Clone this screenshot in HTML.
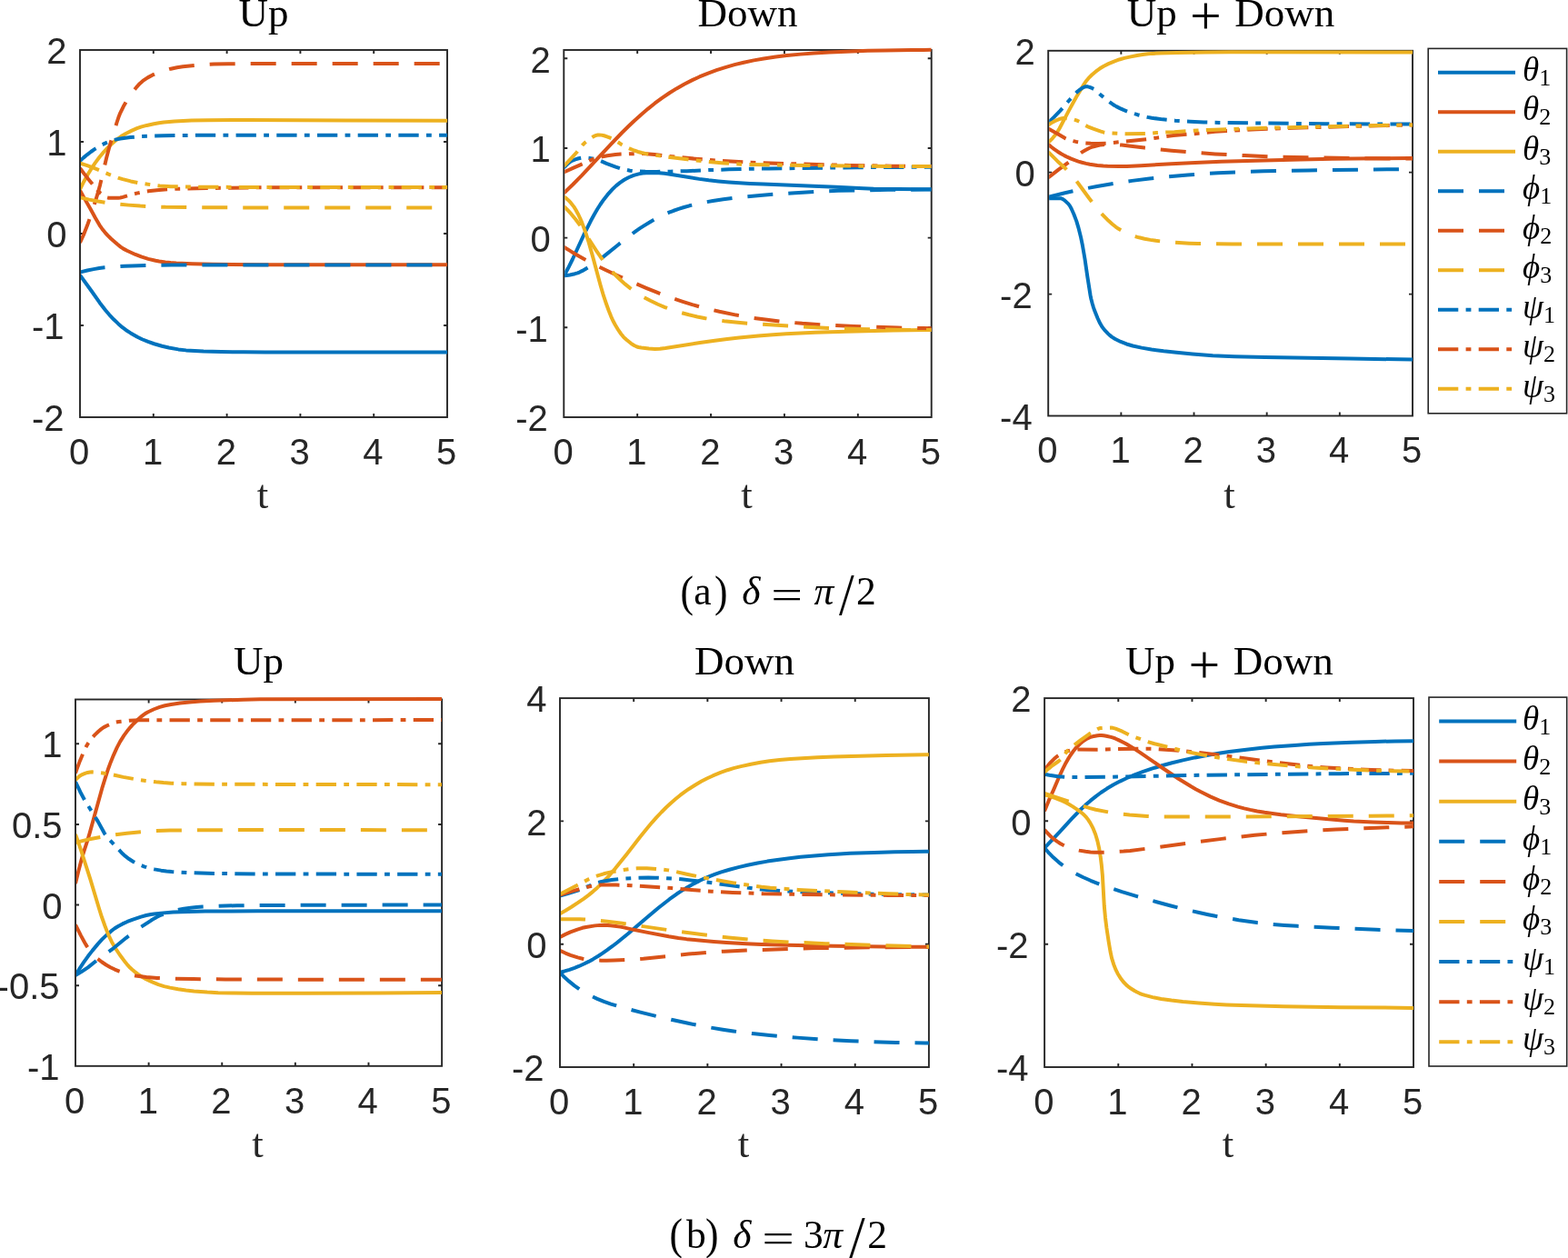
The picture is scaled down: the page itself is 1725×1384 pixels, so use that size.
<!DOCTYPE html><html><head><meta charset="utf-8"><style>html,body{margin:0;padding:0;background:#fff;}svg{display:block}</style></head><body>
<svg width="1725" height="1384" viewBox="0 0 1725 1384">
<rect width="1725" height="1384" fill="#fff"/>
<rect x="88" y="55" width="404" height="404" fill="none" stroke="#262626" stroke-width="1.9"/>
<path d="M168.8 459v-4.0M168.8 55v4.0M249.6 459v-4.0M249.6 55v4.0M330.4 459v-4.0M330.4 55v4.0M411.2 459v-4.0M411.2 55v4.0M88 156h4.0M492 156h-4.0M88 257h4.0M492 257h-4.0M88 358h4.0M492 358h-4.0" stroke="#262626" stroke-width="1.9" fill="none"/>
<g font-family="Liberation Sans, sans-serif" font-size="40" fill="#262626"><text x="87.2" y="510.8" text-anchor="middle">0</text><text x="168" y="510.8" text-anchor="middle">1</text><text x="248.8" y="510.8" text-anchor="middle">2</text><text x="329.6" y="510.8" text-anchor="middle">3</text><text x="410.4" y="510.8" text-anchor="middle">4</text><text x="491.2" y="510.8" text-anchor="middle">5</text><text x="73.5" y="70.2" text-anchor="end">2</text><text x="73.5" y="171.2" text-anchor="end">1</text><text x="73.5" y="272.2" text-anchor="end">0</text><text x="70.5" y="373.2" text-anchor="end">-1</text><text x="70.5" y="474.2" text-anchor="end">-2</text></g>
<text x="290" y="28.7" text-anchor="middle" font-family="Liberation Serif, serif" font-size="45" fill="#000">Up</text>
<text x="289" y="558.5" text-anchor="middle" font-family="Liberation Serif, serif" font-size="45" fill="#262626">t</text>
<clipPath id="cP1"><rect x="88.95" y="45" width="414" height="424"/></clipPath>
<g clip-path="url(#cP1)" fill="none" stroke-width="4.0" stroke-linejoin="round" stroke-linecap="butt"><path d="M88.00 302.80 L100.90 320.55 L109.80 333.18 L116.20 341.46 L120.30 346.27 L125.00 351.28 L130.10 356.18 L134.70 360.21 L138.70 363.21 L143.70 366.40 L151.20 370.79 L156.30 373.25 L162.90 375.94 L169.60 378.25 L178.20 380.74 L185.70 382.54 L196.30 384.39 L204.70 385.38 L223.90 386.51 L243.50 387.02 L268.40 387.35 L291.70 387.49 L492.00 387.60" stroke="#0072BD"/><path d="M88.00 209.50 L93.20 218.85 L99.60 230.00 L104.90 239.75 L109.60 247.79 L112.30 251.65 L115.40 255.54 L118.60 259.07 L122.30 262.72 L128.90 268.51 L132.70 271.58 L135.70 273.62 L139.70 275.79 L148.90 279.95 L155.30 282.46 L163.10 284.90 L171.20 286.82 L175.10 287.51 L182.00 288.43 L187.70 289.01 L194.00 289.48 L211.60 290.29 L234.10 290.87 L289.90 291.24 L492.00 291.30" stroke="#D95319"/><path d="M88.00 208.30 L92.20 199.97 L96.40 192.32 L100.40 185.68 L104.60 179.40 L109.30 173.06 L114.10 167.24 L118.60 162.40 L123.50 157.78 L129.10 153.07 L133.20 150.07 L138.40 146.93 L144.60 143.88 L150.70 141.20 L155.80 139.37 L161.50 137.92 L169.30 136.30 L174.90 135.34 L180.30 134.60 L192.00 133.59 L210.80 132.53 L228.30 132.15 L272.80 131.90 L380.70 132.53 L492.00 132.80" stroke="#EDB120"/><path d="M88.00 299.50 L96.10 297.55 L103.00 296.10 L109.20 295.05 L115.00 294.33 L126.20 293.39 L137.20 292.73 L145.60 292.40 L165.10 291.92 L188.70 291.61 L251.60 291.43 L492.00 291.40" stroke="#0072BD" stroke-dasharray="28 17"/><path d="M88.00 267.00 L91.90 258.41 L96.00 248.09 L99.80 237.15 L105.50 219.54 L108.10 210.81 L110.10 203.41 L117.00 174.21 L119.80 163.46 L122.80 153.20 L128.60 134.49 L130.40 129.08 L131.90 125.23 L135.70 117.29 L139.80 110.10 L144.20 103.58 L150.00 96.13 L153.80 91.96 L157.20 88.95 L162.50 85.38 L167.90 82.43 L173.30 80.11 L180.50 77.72 L187.90 75.67 L194.70 74.22 L201.20 73.31 L215.20 71.85 L225.60 71.02 L235.30 70.50 L251.10 70.23 L290.10 70.01 L492.00 70.00" stroke="#D95319" stroke-dasharray="28 17"/><path d="M88.00 217.30 L98.20 219.59 L108.10 221.49 L117.70 223.01 L128.10 224.33 L141.50 225.62 L154.30 226.60 L168.20 227.31 L182.20 227.83 L216.90 228.22 L271.10 228.47 L492.00 228.50" stroke="#EDB120" stroke-dasharray="28 17"/><path d="M88.00 177.00 L92.00 173.39 L96.00 170.06 L100.00 167.01 L104.10 164.15 L108.20 161.57 L112.00 159.44 L115.10 157.92 L120.00 155.82 L122.90 154.74 L125.50 153.95 L132.40 152.55 L143.60 151.09 L155.30 149.98 L164.80 149.54 L180.00 149.14 L217.10 148.82 L492.00 148.80" stroke="#0072BD" stroke-dasharray="22.3 8.3 5.8 8.3"/><path d="M88.00 184.91 L92.40 190.88 L96.90 196.69 L106.50 208.46 L108.60 210.84 L110.50 212.59 L115.30 216.04 L117.60 217.22 L119.60 217.68 L130.20 217.69 L132.40 217.48 L135.10 216.85 L141.00 215.02 L150.30 212.65 L157.60 211.16 L163.20 210.26 L172.60 209.21 L181.00 208.46 L188.30 208.00 L197.00 207.69 L226.70 207.05 L286.60 206.31 L492.00 206.20" stroke="#D95319" stroke-dasharray="22.3 8.3 5.8 8.3"/><path d="M88.00 179.50 L96.00 182.23 L104.70 185.48 L111.00 187.99 L119.40 191.70 L125.10 193.92 L129.80 195.57 L135.00 197.12 L143.80 199.43 L151.60 201.08 L171.20 203.99 L175.80 204.49 L188.00 205.13 L200.10 205.51 L241.60 205.85 L296.90 206.00 L492.00 206.10" stroke="#EDB120" stroke-dasharray="22.3 8.3 5.8 8.3"/></g>
<rect x="620.3" y="55" width="404.4" height="404" fill="none" stroke="#262626" stroke-width="1.9"/>
<path d="M701.18 459v-4.0M701.18 55v4.0M782.06 459v-4.0M782.06 55v4.0M862.94 459v-4.0M862.94 55v4.0M943.82 459v-4.0M943.82 55v4.0M620.3 64.3h4.0M1024.7 64.3h-4.0M620.3 163h4.0M1024.7 163h-4.0M620.3 261.6h4.0M1024.7 261.6h-4.0M620.3 360.3h4.0M1024.7 360.3h-4.0" stroke="#262626" stroke-width="1.9" fill="none"/>
<g font-family="Liberation Sans, sans-serif" font-size="40" fill="#262626"><text x="619.5" y="510.8" text-anchor="middle">0</text><text x="700.38" y="510.8" text-anchor="middle">1</text><text x="781.26" y="510.8" text-anchor="middle">2</text><text x="862.14" y="510.8" text-anchor="middle">3</text><text x="943.02" y="510.8" text-anchor="middle">4</text><text x="1023.9" y="510.8" text-anchor="middle">5</text><text x="605.8" y="79.5" text-anchor="end">2</text><text x="605.8" y="178.2" text-anchor="end">1</text><text x="605.8" y="276.8" text-anchor="end">0</text><text x="602.8" y="375.5" text-anchor="end">-1</text><text x="602.8" y="474.2" text-anchor="end">-2</text></g>
<text x="822.5" y="28.7" text-anchor="middle" font-family="Liberation Serif, serif" font-size="45" fill="#000">Down</text>
<text x="821.5" y="558.5" text-anchor="middle" font-family="Liberation Serif, serif" font-size="45" fill="#262626">t</text>
<clipPath id="cP2"><rect x="621.25" y="45" width="414.4" height="424"/></clipPath>
<g clip-path="url(#cP2)" fill="none" stroke-width="4.0" stroke-linejoin="round" stroke-linecap="butt"><path d="M620.30 303.88 L625.00 295.02 L630.00 285.01 L643.10 256.66 L649.90 243.04 L653.60 236.18 L657.20 230.02 L660.40 225.00 L664.30 219.42 L668.40 214.17 L673.20 208.80 L677.80 204.41 L682.20 200.85 L687.20 197.53 L691.50 195.26 L697.20 192.92 L702.70 191.41 L707.00 190.58 L711.00 190.25 L719.70 189.98 L724.80 190.23 L731.00 190.82 L735.90 191.47 L769.20 196.87 L779.70 198.33 L790.30 199.40 L801.90 200.40 L825.00 201.92 L839.40 202.57 L919.50 205.63 L949.80 207.21 L961.30 207.69 L987.40 208.04 L1024.50 208.21" stroke="#0072BD"/><path d="M620.30 212.58 L630.20 203.02 L639.70 193.41 L671.90 158.81 L684.00 146.25 L691.60 138.73 L697.70 132.94 L705.50 125.97 L712.70 119.82 L720.30 113.73 L728.20 107.93 L736.50 102.26 L744.30 97.40 L753.00 92.50 L761.60 88.10 L769.50 84.47 L779.00 80.55 L788.30 77.13 L797.90 74.05 L808.10 71.17 L818.20 68.72 L829.30 66.39 L840.20 64.46 L853.40 62.51 L865.50 61.09 L880.70 59.62 L895.20 58.50 L912.50 57.49 L931.10 56.65 L954.80 55.85 L973.50 55.38 L1002.80 54.98 L1024.50 54.86" stroke="#D95319"/><path d="M620.30 216.49 L622.70 217.99 L625.20 220.19 L628.20 223.45 L631.30 227.37 L633.40 230.73 L635.80 235.23 L638.40 240.65 L640.50 245.64 L644.50 256.64 L647.70 266.68 L652.00 281.89 L660.50 313.44 L664.00 325.45 L666.80 333.74 L669.70 341.77 L672.10 347.82 L674.30 352.71 L677.00 357.75 L680.30 363.22 L683.10 367.26 L685.80 370.54 L687.30 372.06 L689.50 374.01 L694.20 377.82 L697.60 380.04 L700.70 381.49 L702.50 382.02 L705.50 382.54 L713.80 383.59 L720.40 383.93 L725.90 383.72 L732.00 382.97 L770.10 376.97 L786.40 374.69 L800.00 372.98 L813.10 371.55 L834.20 369.61 L850.40 368.30 L864.80 367.35 L896.70 365.84 L930.50 364.78 L982.60 363.54 L1024.50 363.00" stroke="#EDB120"/><path d="M620.30 303.23 L623.40 303.01 L626.90 302.47 L632.50 301.19 L635.40 300.34 L637.90 299.31 L640.70 297.91 L649.50 292.75 L655.20 288.88 L664.80 281.63 L680.50 268.96 L693.30 258.92 L699.40 254.34 L704.00 251.15 L709.20 247.86 L716.00 243.76 L721.90 240.42 L726.70 237.91 L731.30 235.71 L735.40 233.96 L740.50 232.01 L746.50 229.91 L752.50 228.00 L758.50 226.30 L764.40 224.82 L773.90 222.80 L784.20 220.95 L795.70 219.22 L808.00 217.65 L820.10 216.36 L836.00 214.95 L853.00 213.63 L870.80 212.43 L903.60 210.52 L922.00 209.78 L977.00 208.82 L1024.50 208.50" stroke="#0072BD" stroke-dasharray="28 17"/><path d="M620.30 271.62 L628.70 276.92 L637.30 282.03 L646.10 286.94 L653.90 290.97 L666.70 297.20 L680.70 303.69 L696.70 310.83 L710.80 316.84 L722.10 321.43 L732.50 325.42 L741.50 328.66 L751.10 331.85 L761.50 335.08 L771.40 337.89 L781.40 340.48 L791.40 342.80 L809.90 346.59 L820.60 348.50 L828.80 349.79 L843.90 351.79 L857.80 353.45 L870.60 354.79 L882.60 355.85 L910.40 357.67 L939.50 359.02 L987.40 360.55 L1024.50 361.23" stroke="#D95319" stroke-dasharray="28 17"/><path d="M620.30 226.94 L624.30 230.89 L628.60 235.66 L633.20 241.28 L638.10 247.73 L641.20 252.32 L648.80 264.71 L655.90 275.61 L660.40 282.20 L665.10 288.51 L669.40 293.97 L673.30 298.57 L677.20 302.74 L681.80 307.28 L687.80 312.68 L693.70 317.38 L700.50 322.19 L707.30 326.42 L715.40 330.79 L723.70 334.76 L731.60 338.06 L740.80 341.39 L748.90 343.93 L757.80 346.29 L767.10 348.44 L776.10 350.17 L786.40 351.83 L796.70 353.21 L809.10 354.54 L822.10 355.66 L887.90 359.82 L912.40 361.04 L944.00 361.88 L974.70 362.52 L1000.60 362.88 L1024.50 363.00" stroke="#EDB120" stroke-dasharray="28 17"/><path d="M620.30 184.50 L623.00 181.69 L625.30 179.56 L627.30 177.99 L629.20 176.85 L633.00 175.35 L636.60 174.22 L639.60 173.60 L642.30 173.40 L645.20 173.52 L648.40 173.87 L654.20 174.84 L656.30 175.33 L659.70 176.55 L667.20 179.85 L677.30 183.67 L682.00 185.17 L688.70 186.79 L693.10 187.68 L696.90 188.19 L710.00 188.74 L722.50 188.90 L738.00 188.67 L755.50 188.18 L779.30 187.10 L802.00 186.35 L819.90 185.89 L845.80 185.47 L943.30 184.20 L985.20 183.90 L1024.50 183.80" stroke="#0072BD" stroke-dasharray="22.3 8.3 5.8 8.3"/><path d="M620.30 189.50 L629.80 185.17 L640.10 180.69 L650.60 175.88 L654.90 174.18 L658.60 173.04 L668.20 171.20 L677.20 170.02 L683.10 169.61 L698.80 169.16 L707.60 169.11 L714.00 169.43 L720.20 170.02 L734.90 171.75 L767.80 174.99 L793.00 176.93 L820.90 178.54 L882.80 180.58 L934.90 181.94 L981.50 182.74 L1024.50 183.00" stroke="#D95319" stroke-dasharray="22.3 8.3 5.8 8.3"/><path d="M620.30 183.00 L627.10 175.74 L634.50 167.53 L640.60 159.92 L643.10 157.28 L648.90 152.80 L652.60 150.38 L654.40 149.48 L656.00 148.88 L657.50 148.52 L659.00 148.40 L661.70 148.62 L664.60 149.27 L667.80 150.33 L673.30 152.44 L676.70 154.23 L684.30 159.34 L687.60 161.21 L693.00 163.63 L697.60 165.49 L701.80 166.95 L705.80 168.05 L710.80 169.12 L716.50 170.11 L737.20 173.06 L756.00 175.34 L785.50 178.54 L796.40 179.45 L815.30 180.65 L823.50 180.97 L841.40 181.32 L886.60 182.06 L932.20 182.58 L978.20 182.90 L1024.50 183.00" stroke="#EDB120" stroke-dasharray="22.3 8.3 5.8 8.3"/></g>
<rect x="1153.2" y="55.8" width="400.8" height="401.7" fill="none" stroke="#262626" stroke-width="1.9"/>
<path d="M1233.36 457.5v-4.0M1233.36 55.8v4.0M1313.52 457.5v-4.0M1313.52 55.8v4.0M1393.68 457.5v-4.0M1393.68 55.8v4.0M1473.84 457.5v-4.0M1473.84 55.8v4.0M1153.2 189.6h4.0M1554 189.6h-4.0M1153.2 323.6h4.0M1554 323.6h-4.0" stroke="#262626" stroke-width="1.9" fill="none"/>
<g font-family="Liberation Sans, sans-serif" font-size="40" fill="#262626"><text x="1152.4" y="509.3" text-anchor="middle">0</text><text x="1232.56" y="509.3" text-anchor="middle">1</text><text x="1312.72" y="509.3" text-anchor="middle">2</text><text x="1392.88" y="509.3" text-anchor="middle">3</text><text x="1473.04" y="509.3" text-anchor="middle">4</text><text x="1553.2" y="509.3" text-anchor="middle">5</text><text x="1138.7" y="71" text-anchor="end">2</text><text x="1138.7" y="204.8" text-anchor="end">0</text><text x="1135.7" y="338.8" text-anchor="end">-2</text><text x="1135.7" y="472.7" text-anchor="end">-4</text></g>
<g font-family="Liberation Serif, serif">
<text x="1239.66" y="28.70" font-size="45" fill="#000">Up</text>
<text transform="translate(1309.03 37.16) scale(1.371 1.336)" font-size="45" fill="#000">+</text>
<text x="1358.30" y="28.70" font-size="45" fill="#000">Down</text>
</g>
<text x="1352.6" y="558.5" text-anchor="middle" font-family="Liberation Serif, serif" font-size="45" fill="#262626">t</text>
<clipPath id="cP3"><rect x="1154.15" y="45.8" width="410.8" height="421.7"/></clipPath>
<g clip-path="url(#cP3)" fill="none" stroke-width="4.0" stroke-linejoin="round" stroke-linecap="butt"><path d="M1153.20 218.20 L1166.40 218.20 L1167.40 218.35 L1168.50 218.73 L1169.90 219.50 L1171.40 220.60 L1175.40 224.40 L1176.90 226.37 L1178.50 229.21 L1181.30 235.48 L1184.30 243.41 L1186.60 251.13 L1189.10 261.13 L1191.00 270.47 L1193.50 285.00 L1196.40 304.90 L1199.60 325.15 L1200.40 329.00 L1201.70 334.04 L1203.00 338.35 L1204.40 342.36 L1207.40 349.78 L1210.10 355.58 L1212.40 359.55 L1215.00 362.89 L1219.00 367.13 L1221.00 368.92 L1223.10 370.56 L1226.90 373.00 L1232.90 375.98 L1239.30 378.47 L1246.20 380.50 L1255.90 382.64 L1266.80 384.49 L1280.20 386.30 L1294.30 387.85 L1311.90 389.45 L1334.20 391.20 L1358.10 392.13 L1392.00 392.94 L1485.40 394.61 L1554.00 395.50" stroke="#0072BD"/><path d="M1153.20 158.87 L1156.70 161.78 L1160.10 164.36 L1163.50 166.72 L1167.10 168.98 L1170.90 171.13 L1174.50 172.94 L1178.30 174.65 L1182.30 176.23 L1186.30 177.60 L1190.30 178.77 L1194.70 179.87 L1198.90 180.70 L1207.20 181.97 L1213.70 182.58 L1218.40 182.87 L1231.10 183.06 L1239.70 182.88 L1255.20 182.16 L1288.50 180.17 L1314.90 178.91 L1343.50 177.80 L1381.60 176.66 L1430.80 175.49 L1465.90 174.82 L1514.50 174.23 L1554.00 173.95" stroke="#D95319"/><path d="M1153.20 156.50 L1155.50 154.63 L1158.00 152.06 L1161.10 148.27 L1163.50 144.87 L1165.60 141.22 L1175.90 121.67 L1184.20 106.47 L1192.60 92.63 L1195.10 88.99 L1197.40 86.15 L1201.30 82.29 L1205.50 78.67 L1209.70 75.57 L1213.90 72.97 L1219.50 70.16 L1225.60 67.54 L1231.40 65.46 L1237.00 63.87 L1244.00 62.34 L1251.00 61.01 L1257.20 60.02 L1263.00 59.31 L1268.10 58.88 L1275.40 58.50 L1294.60 57.89 L1326.30 57.47 L1354.00 57.30 L1554.00 57.50" stroke="#EDB120"/><path d="M1153.20 216.84 L1171.50 212.28 L1189.90 208.25 L1207.00 204.92 L1226.20 201.69 L1245.30 198.87 L1264.50 196.50 L1285.80 194.27 L1306.70 192.49 L1324.10 191.25 L1340.00 190.34 L1367.10 189.11 L1390.40 188.34 L1438.90 187.43 L1554.00 185.99" stroke="#0072BD" stroke-dasharray="28 17"/><path d="M1153.20 195.44 L1164.80 186.34 L1177.60 177.05 L1186.40 170.03 L1189.10 168.16 L1193.50 165.52 L1198.20 163.01 L1202.10 161.48 L1210.00 159.65 L1213.00 159.17 L1215.80 158.92 L1226.10 158.93 L1234.10 159.57 L1241.90 160.42 L1259.00 162.60 L1274.90 164.38 L1288.80 165.76 L1307.60 167.35 L1336.80 169.39 L1369.00 171.09 L1403.20 172.50 L1423.10 173.05 L1495.00 174.15 L1525.50 174.42 L1554.00 174.50" stroke="#D95319" stroke-dasharray="28 17"/><path d="M1153.20 167.25 L1163.20 177.17 L1172.00 185.20 L1177.20 190.76 L1181.50 195.84 L1186.20 201.71 L1197.90 217.76 L1207.50 230.23 L1211.50 234.82 L1219.50 242.82 L1223.60 246.50 L1227.40 249.53 L1230.70 251.79 L1235.00 254.29 L1239.60 256.65 L1244.00 258.55 L1247.70 259.82 L1253.20 261.31 L1259.20 262.71 L1265.40 263.89 L1271.60 264.84 L1278.40 265.65 L1286.80 266.40 L1297.10 267.08 L1308.30 267.69 L1317.60 268.03 L1337.90 268.35 L1355.40 268.48 L1554.00 268.50" stroke="#EDB120" stroke-dasharray="28 17"/><path d="M1153.20 135.00 L1159.50 128.88 L1166.30 121.81 L1169.60 118.18 L1177.00 109.52 L1184.60 101.38 L1186.90 99.42 L1191.30 96.45 L1193.30 95.50 L1195.00 95.20 L1196.70 95.36 L1198.60 95.87 L1201.40 96.97 L1203.70 98.09 L1206.00 99.85 L1211.40 104.86 L1219.10 111.00 L1223.00 113.92 L1225.70 115.73 L1228.10 117.14 L1232.00 119.12 L1236.00 120.94 L1240.50 122.75 L1245.10 124.34 L1251.40 126.19 L1257.40 127.75 L1262.30 128.85 L1267.00 129.73 L1279.10 131.36 L1292.80 132.69 L1309.20 133.79 L1324.60 134.53 L1341.20 134.95 L1391.90 135.58 L1457.60 136.19 L1507.90 136.50 L1554.00 136.60" stroke="#0072BD" stroke-dasharray="22.3 8.3 5.8 8.3"/><path d="M1153.20 141.50 L1164.40 147.73 L1171.70 152.08 L1174.10 153.19 L1177.90 154.45 L1183.90 155.91 L1192.70 157.31 L1199.90 157.75 L1208.40 157.89 L1217.90 157.60 L1221.90 157.29 L1261.80 153.07 L1285.10 149.81 L1290.90 149.10 L1318.10 146.79 L1336.70 144.76 L1349.50 143.91 L1382.30 142.27 L1422.70 140.82 L1496.00 138.71 L1554.00 137.50" stroke="#D95319" stroke-dasharray="22.3 8.3 5.8 8.3"/><path d="M1153.20 137.50 L1156.40 135.37 L1159.40 133.68 L1161.50 132.70 L1166.50 130.72 L1168.30 130.22 L1169.90 130.01 L1172.10 130.05 L1174.80 130.29 L1178.30 130.74 L1180.10 131.11 L1182.50 131.82 L1185.60 132.96 L1188.30 134.30 L1194.20 138.03 L1196.80 139.29 L1202.70 141.64 L1211.10 144.63 L1213.80 145.46 L1216.40 145.98 L1221.90 146.47 L1233.60 147.07 L1239.60 147.20 L1262.10 146.97 L1272.30 146.02 L1291.90 145.20 L1317.40 143.45 L1335.90 142.65 L1368.20 141.56 L1409.70 140.38 L1457.10 139.23 L1507.70 138.18 L1554.00 137.40" stroke="#EDB120" stroke-dasharray="22.3 8.3 5.8 8.3"/></g>
<rect x="83" y="769.5" width="403.1" height="403.3" fill="none" stroke="#262626" stroke-width="1.9"/>
<path d="M163.62 1172.8v-4.0M163.62 769.5v4.0M244.24 1172.8v-4.0M244.24 769.5v4.0M324.86 1172.8v-4.0M324.86 769.5v4.0M405.48 1172.8v-4.0M405.48 769.5v4.0M83 818.2h4.0M486.1 818.2h-4.0M83 907h4.0M486.1 907h-4.0M83 995.5h4.0M486.1 995.5h-4.0M83 1084.2h4.0M486.1 1084.2h-4.0" stroke="#262626" stroke-width="1.9" fill="none"/>
<g font-family="Liberation Sans, sans-serif" font-size="40" fill="#262626"><text x="82.2" y="1224.6" text-anchor="middle">0</text><text x="162.82" y="1224.6" text-anchor="middle">1</text><text x="243.44" y="1224.6" text-anchor="middle">2</text><text x="324.06" y="1224.6" text-anchor="middle">3</text><text x="404.68" y="1224.6" text-anchor="middle">4</text><text x="485.3" y="1224.6" text-anchor="middle">5</text><text x="68.5" y="833.4" text-anchor="end">1</text><text x="68.5" y="922.2" text-anchor="end">0.5</text><text x="68.5" y="1010.7" text-anchor="end">0</text><text x="65.5" y="1099.4" text-anchor="end">-0.5</text><text x="65.5" y="1188" text-anchor="end">-1</text></g>
<text x="284.55" y="742.1" text-anchor="middle" font-family="Liberation Serif, serif" font-size="45" fill="#000">Up</text>
<text x="283.55" y="1273" text-anchor="middle" font-family="Liberation Serif, serif" font-size="45" fill="#262626">t</text>
<clipPath id="cP4"><rect x="83.95" y="759.5" width="413.1" height="423.3"/></clipPath>
<g clip-path="url(#cP4)" fill="none" stroke-width="4.0" stroke-linejoin="round" stroke-linecap="butt"><path d="M83.00 1073.00 L87.70 1065.36 L92.30 1058.40 L97.00 1051.82 L101.80 1045.62 L107.80 1038.36 L112.10 1033.58 L117.00 1028.89 L122.20 1024.40 L126.00 1021.52 L129.60 1019.20 L134.80 1016.40 L140.10 1013.96 L145.50 1011.88 L155.10 1008.68 L160.90 1007.05 L166.00 1005.95 L169.60 1005.43 L177.00 1004.63 L190.50 1003.61 L207.20 1002.94 L225.80 1002.54 L283.70 1002.30 L486.00 1002.20" stroke="#0072BD"/><path d="M83.00 972.00 L86.40 957.97 L89.70 945.52 L91.70 938.70 L96.40 924.06 L98.50 917.06 L112.30 867.20 L116.20 854.56 L119.20 845.48 L121.60 838.92 L124.90 830.82 L128.60 822.60 L132.00 816.12 L136.40 809.16 L141.00 802.92 L143.40 800.04 L145.80 797.42 L149.70 793.50 L153.00 790.41 L155.70 788.09 L158.30 786.09 L160.70 784.49 L163.00 783.20 L169.40 780.25 L175.70 777.90 L181.50 776.27 L188.20 774.98 L198.10 773.50 L208.30 772.39 L220.20 771.54 L235.60 770.75 L267.40 769.69 L286.10 769.31 L486.00 769.10" stroke="#D95319"/><path d="M83.00 918.00 L85.90 925.94 L88.70 934.09 L99.30 967.23 L109.30 1000.49 L112.10 1009.28 L115.30 1018.27 L118.10 1025.59 L120.50 1031.24 L122.80 1035.97 L126.90 1043.17 L131.80 1050.49 L138.00 1058.84 L140.60 1061.95 L143.00 1064.51 L145.20 1066.55 L148.60 1069.36 L151.60 1071.63 L154.70 1073.75 L157.60 1075.55 L160.60 1077.21 L167.50 1080.43 L174.20 1083.10 L180.50 1085.10 L187.10 1086.60 L196.00 1088.22 L204.60 1089.45 L213.40 1090.40 L228.00 1091.53 L240.00 1092.16 L257.50 1092.53 L277.30 1092.76 L334.00 1092.79 L417.70 1092.58 L486.00 1092.00" stroke="#EDB120"/><path d="M83.00 1073.00 L89.60 1069.13 L96.70 1064.34 L108.00 1055.30 L120.50 1046.41 L124.70 1043.28 L138.80 1031.80 L144.00 1027.78 L153.90 1020.68 L166.30 1012.56 L169.80 1010.41 L172.80 1008.75 L175.40 1007.51 L178.50 1006.25 L183.70 1004.32 L188.40 1002.77 L192.80 1001.54 L196.90 1000.63 L202.30 999.77 L209.60 998.82 L216.30 998.11 L222.90 997.58 L240.00 996.80 L260.80 996.24 L358.50 995.70 L486.00 995.50" stroke="#0072BD" stroke-dasharray="28 17"/><path d="M83.00 1017.50 L88.90 1029.08 L93.30 1037.20 L95.50 1040.87 L98.60 1045.17 L101.80 1049.17 L104.70 1052.35 L107.40 1054.87 L111.90 1058.28 L116.70 1061.47 L121.50 1064.22 L126.30 1066.56 L131.30 1068.57 L138.50 1071.00 L144.00 1072.49 L149.10 1073.47 L161.10 1074.97 L173.00 1075.92 L191.80 1076.64 L212.70 1077.08 L248.00 1077.41 L283.10 1077.59 L486.00 1077.80" stroke="#D95319" stroke-dasharray="28 17"/><path d="M83.00 927.11 L92.50 924.66 L99.70 923.06 L116.00 920.02 L129.30 917.93 L139.50 916.69 L156.90 915.11 L169.30 914.18 L180.10 913.64 L187.00 913.49 L216.90 913.25 L274.50 913.03 L397.10 913.07 L486.00 913.30" stroke="#EDB120" stroke-dasharray="28 17"/><path d="M83.00 860.00 L88.30 871.20 L93.60 881.10 L107.70 903.59 L114.90 916.78 L116.90 919.66 L119.40 922.75 L134.70 939.04 L137.90 941.96 L142.00 945.05 L146.60 948.03 L150.90 950.24 L158.50 953.28 L162.10 954.46 L165.50 955.41 L170.00 956.39 L177.20 957.65 L183.20 958.49 L188.90 959.08 L207.40 960.13 L228.80 960.78 L258.70 961.26 L285.70 961.49 L486.00 961.80" stroke="#0072BD" stroke-dasharray="22.3 8.3 5.8 8.3"/><path d="M83.00 850.50 L85.50 843.45 L88.00 836.90 L91.00 829.69 L93.60 823.84 L95.20 820.64 L96.80 817.94 L99.00 814.70 L101.30 811.76 L103.90 808.90 L108.20 804.75 L111.30 802.14 L114.20 800.14 L118.40 798.00 L123.10 795.99 L127.00 794.72 L130.50 793.98 L142.60 792.74 L148.10 792.42 L153.20 792.30 L335.00 792.28 L486.00 792.00" stroke="#D95319" stroke-dasharray="22.3 8.3 5.8 8.3"/><path d="M83.00 858.00 L86.90 854.34 L88.40 853.23 L89.80 852.44 L93.50 850.90 L96.40 849.95 L99.00 849.42 L101.40 849.30 L107.60 849.72 L117.90 851.10 L122.40 851.96 L135.50 854.86 L149.70 857.37 L160.30 858.95 L171.70 860.32 L179.70 861.10 L188.50 861.63 L200.70 862.17 L215.70 862.51 L265.20 862.83 L486.00 863.20" stroke="#EDB120" stroke-dasharray="22.3 8.3 5.8 8.3"/></g>
<rect x="616" y="768.1" width="405.9" height="405.9" fill="none" stroke="#262626" stroke-width="1.9"/>
<path d="M697.18 1174v-4.0M697.18 768.1v4.0M778.36 1174v-4.0M778.36 768.1v4.0M859.54 1174v-4.0M859.54 768.1v4.0M940.72 1174v-4.0M940.72 768.1v4.0M616 903.4h4.0M1021.9 903.4h-4.0M616 1038.8h4.0M1021.9 1038.8h-4.0" stroke="#262626" stroke-width="1.9" fill="none"/>
<g font-family="Liberation Sans, sans-serif" font-size="40" fill="#262626"><text x="615.2" y="1225.8" text-anchor="middle">0</text><text x="696.38" y="1225.8" text-anchor="middle">1</text><text x="777.56" y="1225.8" text-anchor="middle">2</text><text x="858.74" y="1225.8" text-anchor="middle">3</text><text x="939.92" y="1225.8" text-anchor="middle">4</text><text x="1021.1" y="1225.8" text-anchor="middle">5</text><text x="601.5" y="783.3" text-anchor="end">4</text><text x="601.5" y="918.6" text-anchor="end">2</text><text x="601.5" y="1054" text-anchor="end">0</text><text x="598.5" y="1189.2" text-anchor="end">-2</text></g>
<text x="818.95" y="742.1" text-anchor="middle" font-family="Liberation Serif, serif" font-size="45" fill="#000">Down</text>
<text x="817.95" y="1273" text-anchor="middle" font-family="Liberation Serif, serif" font-size="45" fill="#262626">t</text>
<clipPath id="cP5"><rect x="616.95" y="758.1" width="415.9" height="425.9"/></clipPath>
<g clip-path="url(#cP5)" fill="none" stroke-width="4.0" stroke-linejoin="round" stroke-linecap="butt"><path d="M616.00 1069.74 L621.10 1068.44 L626.50 1066.80 L632.10 1064.88 L636.90 1062.97 L642.30 1060.53 L647.60 1057.90 L652.60 1055.13 L658.20 1051.75 L662.60 1048.91 L667.60 1045.44 L673.70 1040.99 L678.90 1036.98 L690.90 1027.21 L712.80 1008.49 L724.70 998.52 L736.60 989.23 L744.80 983.29 L750.10 979.86 L757.40 975.46 L763.40 972.10 L769.10 969.17 L774.20 966.80 L780.60 964.13 L787.00 961.70 L793.50 959.46 L802.40 956.74 L812.30 954.09 L822.40 951.74 L833.50 949.48 L844.10 947.60 L855.10 945.95 L868.50 944.18 L880.70 942.83 L911.20 940.24 L923.70 939.40 L935.20 938.81 L961.70 937.90 L984.30 937.28 L1003.90 936.92 L1021.90 936.81" stroke="#0072BD"/><path d="M616.00 1031.00 L622.00 1027.90 L627.60 1025.38 L635.20 1022.55 L640.70 1020.82 L644.60 1019.93 L654.50 1018.38 L659.90 1017.88 L664.70 1017.82 L672.00 1018.32 L682.40 1019.62 L686.30 1020.40 L695.70 1022.58 L712.40 1025.91 L735.70 1030.29 L746.30 1032.02 L755.30 1033.14 L766.30 1034.25 L785.30 1035.90 L799.30 1036.95 L820.90 1038.21 L837.80 1039.01 L877.10 1040.02 L917.20 1040.81 L954.10 1041.36 L988.80 1041.69 L1021.90 1041.80" stroke="#D95319"/><path d="M616.00 1005.21 L622.20 1001.72 L628.70 997.76 L635.70 993.19 L642.40 988.54 L647.70 984.59 L652.60 980.62 L656.80 976.92 L661.30 972.59 L670.40 963.02 L676.80 955.62 L689.70 939.49 L704.00 920.98 L711.90 911.25 L717.30 904.82 L721.90 899.63 L727.70 893.50 L732.90 888.28 L737.80 883.68 L743.20 879.01 L748.50 874.70 L753.30 871.09 L757.90 867.94 L765.00 863.48 L771.70 859.60 L778.10 856.26 L784.20 853.46 L792.70 849.97 L800.30 847.22 L807.00 845.17 L815.10 843.15 L826.10 840.73 L836.70 838.77 L846.50 837.33 L857.60 836.11 L869.50 835.06 L882.10 834.21 L899.20 833.33 L917.80 832.57 L974.90 830.96 L1021.90 830.15" stroke="#EDB120"/><path d="M616.00 1070.00 L621.20 1075.31 L625.80 1079.43 L631.90 1084.36 L637.60 1088.40 L643.80 1092.22 L650.20 1095.66 L657.00 1098.82 L664.40 1101.82 L672.10 1104.55 L681.40 1107.45 L690.90 1110.11 L704.50 1113.64 L722.40 1118.01 L740.90 1122.32 L755.90 1125.56 L769.80 1128.34 L782.20 1130.59 L795.10 1132.71 L806.90 1134.45 L819.90 1136.17 L830.10 1137.34 L846.70 1139.01 L877.20 1141.62 L912.30 1144.07 L936.20 1145.34 L985.40 1146.95 L1004.50 1147.34 L1021.90 1147.51" stroke="#0072BD" stroke-dasharray="28 17"/><path d="M616.00 1045.70 L622.00 1048.53 L627.60 1050.78 L635.60 1053.36 L640.90 1054.75 L644.60 1055.38 L654.50 1056.33 L661.30 1056.72 L667.50 1056.79 L675.50 1056.59 L689.20 1055.97 L707.70 1054.68 L717.50 1053.77 L757.50 1049.60 L780.60 1047.68 L796.60 1046.69 L820.90 1045.61 L872.80 1043.70 L896.30 1043.06 L964.20 1042.26 L1021.90 1042.00" stroke="#D95319" stroke-dasharray="28 17"/><path d="M616.00 1011.24 L638.00 1011.33 L643.00 1011.48 L651.50 1012.10 L667.90 1013.77 L684.50 1015.85 L747.10 1024.88 L771.50 1028.06 L787.50 1029.96 L801.30 1031.43 L820.40 1033.19 L836.70 1034.52 L849.80 1035.41 L867.80 1036.40 L908.60 1038.13 L970.50 1040.26 L1021.90 1041.52" stroke="#EDB120" stroke-dasharray="28 17"/><path d="M616.00 985.50 L626.30 982.56 L636.60 979.30 L641.10 977.61 L654.00 972.25 L658.00 970.89 L661.60 969.98 L673.00 968.03 L683.50 966.81 L699.80 965.92 L713.30 965.60 L721.30 965.70 L730.80 966.04 L742.10 966.62 L749.80 967.26 L772.60 969.88 L812.60 975.30 L834.00 977.95 L846.40 979.22 L860.80 980.21 L876.00 981.05 L891.50 981.71 L944.70 983.32 L986.20 984.21 L1021.90 984.50" stroke="#0072BD" stroke-dasharray="22.3 8.3 5.8 8.3"/><path d="M616.00 984.70 L623.10 982.30 L629.50 980.34 L648.40 975.35 L652.40 974.46 L655.90 973.86 L659.20 973.50 L662.30 973.40 L677.90 973.62 L694.70 974.19 L738.70 977.10 L764.20 979.35 L783.10 980.67 L805.90 981.88 L839.80 983.25 L873.90 983.86 L929.80 984.54 L976.80 984.89 L1021.90 985.00" stroke="#D95319" stroke-dasharray="22.3 8.3 5.8 8.3"/><path d="M616.00 983.80 L637.10 972.83 L648.00 967.01 L652.40 965.07 L658.30 963.05 L664.20 961.30 L669.80 959.90 L674.40 958.96 L682.60 957.57 L689.70 956.47 L695.50 955.75 L700.70 955.33 L705.60 955.20 L711.70 955.34 L718.40 955.73 L730.00 956.76 L735.20 957.38 L741.30 958.49 L755.50 961.71 L774.60 965.60 L795.90 969.53 L807.30 971.39 L826.60 974.20 L837.80 975.65 L847.50 976.68 L862.00 977.83 L878.50 978.88 L928.50 981.33 L978.70 983.33 L1000.90 984.01 L1021.90 984.50" stroke="#EDB120" stroke-dasharray="22.3 8.3 5.8 8.3"/></g>
<rect x="1149.1" y="768.1" width="405.9" height="405.9" fill="none" stroke="#262626" stroke-width="1.9"/>
<path d="M1230.28 1174v-4.0M1230.28 768.1v4.0M1311.46 1174v-4.0M1311.46 768.1v4.0M1392.64 1174v-4.0M1392.64 768.1v4.0M1473.82 1174v-4.0M1473.82 768.1v4.0M1149.1 903.3h4.0M1555 903.3h-4.0M1149.1 1038.7h4.0M1555 1038.7h-4.0" stroke="#262626" stroke-width="1.9" fill="none"/>
<g font-family="Liberation Sans, sans-serif" font-size="40" fill="#262626"><text x="1148.3" y="1225.8" text-anchor="middle">0</text><text x="1229.48" y="1225.8" text-anchor="middle">1</text><text x="1310.66" y="1225.8" text-anchor="middle">2</text><text x="1391.84" y="1225.8" text-anchor="middle">3</text><text x="1473.02" y="1225.8" text-anchor="middle">4</text><text x="1554.2" y="1225.8" text-anchor="middle">5</text><text x="1134.6" y="783.3" text-anchor="end">2</text><text x="1134.6" y="918.5" text-anchor="end">0</text><text x="1131.6" y="1053.9" text-anchor="end">-2</text><text x="1131.6" y="1189.2" text-anchor="end">-4</text></g>
<g font-family="Liberation Serif, serif">
<text x="1238.11" y="742.10" font-size="45" fill="#000">Up</text>
<text transform="translate(1307.48 750.56) scale(1.371 1.336)" font-size="45" fill="#000">+</text>
<text x="1356.75" y="742.10" font-size="45" fill="#000">Down</text>
</g>
<text x="1351.05" y="1273" text-anchor="middle" font-family="Liberation Serif, serif" font-size="45" fill="#262626">t</text>
<clipPath id="cP6"><rect x="1150.05" y="758.1" width="415.9" height="425.9"/></clipPath>
<g clip-path="url(#cP6)" fill="none" stroke-width="4.0" stroke-linejoin="round" stroke-linecap="butt"><path d="M1149.10 932.87 L1165.90 915.06 L1178.90 900.80 L1189.00 890.51 L1194.20 885.59 L1199.60 880.93 L1205.60 876.08 L1211.10 872.00 L1217.80 867.59 L1225.00 863.34 L1232.10 859.60 L1239.70 856.03 L1248.30 852.42 L1257.60 848.91 L1267.10 845.69 L1277.40 842.55 L1289.40 839.25 L1301.30 836.33 L1314.70 833.42 L1327.60 830.97 L1340.70 828.76 L1352.40 827.04 L1371.10 824.70 L1388.30 822.84 L1401.90 821.61 L1424.10 819.89 L1440.50 818.80 L1455.60 818.00 L1487.30 816.75 L1512.70 815.92 L1534.80 815.41 L1555.00 815.19" stroke="#0072BD"/><path d="M1149.10 892.32 L1153.70 880.89 L1159.00 869.07 L1165.00 855.00 L1169.10 846.14 L1171.90 840.56 L1174.80 835.41 L1177.70 830.74 L1180.50 826.79 L1184.30 822.10 L1187.90 818.47 L1191.80 815.23 L1195.90 812.66 L1199.00 811.14 L1201.90 810.33 L1207.40 809.32 L1209.70 809.11 L1211.80 809.08 L1214.30 809.30 L1217.10 809.77 L1222.10 810.90 L1224.70 811.69 L1227.40 812.73 L1230.50 814.12 L1236.30 816.95 L1239.60 818.73 L1245.30 822.17 L1254.20 827.87 L1279.40 845.27 L1296.50 856.74 L1310.00 865.04 L1315.50 868.19 L1320.80 871.03 L1331.50 876.34 L1341.30 880.54 L1351.70 884.42 L1362.00 887.58 L1368.70 889.35 L1375.30 890.87 L1383.10 892.42 L1391.20 893.81 L1399.70 895.05 L1409.20 896.25 L1430.90 898.47 L1478.80 902.67 L1489.30 903.43 L1510.70 904.43 L1527.20 905.06 L1541.70 905.43 L1555.00 905.55" stroke="#D95319"/><path d="M1149.10 874.30 L1153.80 875.61 L1158.80 877.24 L1163.70 879.05 L1168.30 880.99 L1172.60 883.04 L1176.30 885.03 L1180.20 887.39 L1184.30 890.15 L1188.50 893.17 L1190.90 895.05 L1193.10 897.04 L1195.10 899.17 L1197.00 901.64 L1198.90 904.57 L1200.90 908.14 L1202.80 911.97 L1205.20 918.03 L1207.40 925.38 L1209.20 933.52 L1210.80 943.14 L1211.90 952.35 L1212.90 963.25 L1214.80 996.77 L1216.00 1009.78 L1217.40 1021.00 L1219.80 1036.76 L1221.50 1046.79 L1223.00 1053.83 L1225.10 1060.67 L1227.40 1066.62 L1229.80 1071.48 L1232.60 1075.92 L1235.90 1080.24 L1239.40 1083.87 L1241.10 1085.31 L1243.30 1086.95 L1248.10 1090.03 L1250.90 1091.54 L1253.60 1092.79 L1256.20 1093.79 L1259.60 1094.89 L1268.00 1097.11 L1277.40 1098.94 L1288.70 1100.59 L1301.20 1102.01 L1318.80 1103.53 L1336.20 1104.76 L1349.40 1105.45 L1365.80 1106.04 L1412.30 1107.16 L1475.40 1108.13 L1555.00 1108.90" stroke="#EDB120"/><path d="M1149.10 932.88 L1154.20 938.70 L1158.80 943.34 L1164.70 948.57 L1170.30 952.86 L1177.00 957.32 L1183.70 961.22 L1191.30 965.03 L1199.80 968.79 L1210.80 973.17 L1220.20 976.53 L1234.30 981.14 L1250.80 986.13 L1268.20 991.13 L1288.00 996.49 L1304.70 1000.70 L1319.10 1004.04 L1329.20 1006.25 L1337.10 1007.83 L1362.80 1012.20 L1382.80 1015.09 L1391.70 1016.14 L1400.20 1016.96 L1413.20 1017.96 L1427.40 1018.86 L1465.50 1020.76 L1514.00 1022.79 L1555.00 1024.04" stroke="#0072BD" stroke-dasharray="28 17"/><path d="M1149.10 912.79 L1152.10 916.25 L1154.70 918.99 L1157.10 921.23 L1159.70 923.33 L1163.20 925.90 L1166.40 927.96 L1169.20 929.47 L1172.60 930.97 L1176.60 932.56 L1180.30 933.85 L1183.80 934.86 L1187.20 935.63 L1194.30 936.75 L1199.60 937.41 L1204.20 937.75 L1208.70 937.79 L1216.50 937.61 L1225.70 937.19 L1236.10 936.57 L1243.30 935.92 L1272.00 932.28 L1318.50 926.11 L1344.00 922.87 L1380.40 918.85 L1405.90 916.45 L1434.80 914.45 L1469.70 912.58 L1514.50 910.67 L1555.00 909.33" stroke="#D95319" stroke-dasharray="28 17"/><path d="M1149.10 872.80 L1164.90 878.18 L1191.80 886.94 L1199.10 889.13 L1205.40 890.72 L1219.70 893.53 L1231.90 895.41 L1242.70 896.52 L1262.20 898.02 L1270.80 898.44 L1278.60 898.60 L1363.30 898.48 L1455.60 898.07 L1555.00 897.30" stroke="#EDB120" stroke-dasharray="28 17"/><path d="M1149.10 851.68 L1155.90 853.10 L1163.90 854.21 L1174.60 854.96 L1182.50 855.10 L1223.10 854.67 L1321.10 852.82 L1373.30 852.16 L1474.30 851.16 L1555.00 850.80" stroke="#0072BD" stroke-dasharray="22.3 8.3 5.8 8.3"/><path d="M1149.10 847.40 L1152.50 842.74 L1155.70 838.90 L1159.50 835.08 L1163.00 832.09 L1166.50 829.73 L1170.10 827.80 L1173.60 826.53 L1177.60 825.46 L1181.70 824.87 L1185.50 824.59 L1210.30 824.69 L1230.20 824.04 L1262.80 823.76 L1272.80 824.07 L1290.10 825.22 L1299.70 826.03 L1314.50 827.51 L1340.00 830.52 L1398.00 838.04 L1431.90 842.07 L1450.10 843.87 L1459.10 844.52 L1474.50 845.36 L1508.90 846.99 L1533.10 847.73 L1555.00 847.98" stroke="#D95319" stroke-dasharray="22.3 8.3 5.8 8.3"/><path d="M1149.10 849.50 L1153.60 845.58 L1158.00 842.00 L1164.50 837.52 L1167.10 835.39 L1169.00 833.24 L1173.50 826.98 L1174.90 825.50 L1176.80 823.78 L1188.70 814.44 L1197.90 807.81 L1206.10 802.80 L1207.90 801.88 L1209.40 801.32 L1210.80 801.03 L1213.20 800.87 L1221.90 800.60 L1224.40 800.83 L1227.30 801.68 L1234.70 804.70 L1242.30 808.44 L1246.40 810.14 L1262.10 815.87 L1270.10 818.25 L1301.20 826.03 L1309.10 827.83 L1325.50 830.89 L1342.40 833.79 L1352.60 835.39 L1370.50 837.78 L1386.40 839.56 L1418.80 842.59 L1444.80 844.57 L1466.20 845.72 L1506.70 847.42 L1532.10 848.17 L1555.00 848.50" stroke="#EDB120" stroke-dasharray="22.3 8.3 5.8 8.3"/></g>
<rect x="1571.2" y="53.4" width="152.4" height="401.4" fill="#fff" stroke="#262626" stroke-width="1.6"/>
<g fill="none" stroke-width="4.0" stroke-linecap="butt"><path d="M1582 79.8H1667" stroke="#0072BD"/><path d="M1582 123.3H1667" stroke="#D95319"/><path d="M1582 166.8H1667" stroke="#EDB120"/><path d="M1582 210.3H1667" stroke="#0072BD" stroke-dasharray="28 17"/><path d="M1582 253.8H1667" stroke="#D95319" stroke-dasharray="28 17"/><path d="M1582 297.3H1667" stroke="#EDB120" stroke-dasharray="28 17"/><path d="M1582 340.8H1667" stroke="#0072BD" stroke-dasharray="22.3 8.3 5.8 8.3"/><path d="M1582 384.3H1667" stroke="#D95319" stroke-dasharray="22.3 8.3 5.8 8.3"/><path d="M1582 427.8H1667" stroke="#EDB120" stroke-dasharray="22.3 8.3 5.8 8.3"/></g>
<g font-family="Liberation Serif, serif" font-size="37" fill="#000"><text x="1675" y="88.8"><tspan font-style="italic">θ</tspan><tspan font-size="26" dy="5">1</tspan></text><text x="1675" y="132.3"><tspan font-style="italic">θ</tspan><tspan font-size="26" dy="5">2</tspan></text><text x="1675" y="175.8"><tspan font-style="italic">θ</tspan><tspan font-size="26" dy="5">3</tspan></text><text x="1675" y="219.3"><tspan font-style="italic">ϕ</tspan><tspan font-size="26" dy="5">1</tspan></text><text x="1675" y="262.8"><tspan font-style="italic">ϕ</tspan><tspan font-size="26" dy="5">2</tspan></text><text x="1675" y="306.3"><tspan font-style="italic">ϕ</tspan><tspan font-size="26" dy="5">3</tspan></text><text x="1675" y="349.8"><tspan font-style="italic">ψ</tspan><tspan font-size="26" dy="5">1</tspan></text><text x="1675" y="393.3"><tspan font-style="italic">ψ</tspan><tspan font-size="26" dy="5">2</tspan></text><text x="1675" y="436.8"><tspan font-style="italic">ψ</tspan><tspan font-size="26" dy="5">3</tspan></text></g>
<rect x="1572" y="767.1" width="151.7" height="405.9" fill="#fff" stroke="#262626" stroke-width="1.6"/>
<g fill="none" stroke-width="4.0" stroke-linecap="butt"><path d="M1583.2 793.5H1668.2" stroke="#0072BD"/><path d="M1583.2 837.6H1668.2" stroke="#D95319"/><path d="M1583.2 881.7H1668.2" stroke="#EDB120"/><path d="M1583.2 925.8H1668.2" stroke="#0072BD" stroke-dasharray="28 17"/><path d="M1583.2 969.9H1668.2" stroke="#D95319" stroke-dasharray="28 17"/><path d="M1583.2 1014H1668.2" stroke="#EDB120" stroke-dasharray="28 17"/><path d="M1583.2 1058.1H1668.2" stroke="#0072BD" stroke-dasharray="22.3 8.3 5.8 8.3"/><path d="M1583.2 1102.2H1668.2" stroke="#D95319" stroke-dasharray="22.3 8.3 5.8 8.3"/><path d="M1583.2 1146.3H1668.2" stroke="#EDB120" stroke-dasharray="22.3 8.3 5.8 8.3"/></g>
<g font-family="Liberation Serif, serif" font-size="37" fill="#000"><text x="1675" y="802.5"><tspan font-style="italic">θ</tspan><tspan font-size="26" dy="5">1</tspan></text><text x="1675" y="846.6"><tspan font-style="italic">θ</tspan><tspan font-size="26" dy="5">2</tspan></text><text x="1675" y="890.7"><tspan font-style="italic">θ</tspan><tspan font-size="26" dy="5">3</tspan></text><text x="1675" y="934.8"><tspan font-style="italic">ϕ</tspan><tspan font-size="26" dy="5">1</tspan></text><text x="1675" y="978.9"><tspan font-style="italic">ϕ</tspan><tspan font-size="26" dy="5">2</tspan></text><text x="1675" y="1023"><tspan font-style="italic">ϕ</tspan><tspan font-size="26" dy="5">3</tspan></text><text x="1675" y="1067.1"><tspan font-style="italic">ψ</tspan><tspan font-size="26" dy="5">1</tspan></text><text x="1675" y="1111.2"><tspan font-style="italic">ψ</tspan><tspan font-size="26" dy="5">2</tspan></text><text x="1675" y="1155.3"><tspan font-style="italic">ψ</tspan><tspan font-size="26" dy="5">3</tspan></text></g>
<g font-family="Liberation Serif, serif">
<text transform="translate(748.39 666.81) scale(1.000 1.100)" font-size="43.5" fill="#000">(</text>
<text x="763.17" y="665.20" font-size="43.5" fill="#000">a</text>
<text transform="translate(785.90 666.81) scale(1.000 1.100)" font-size="43.5" fill="#000">)</text>
<text x="816.13" y="665.20" font-size="43.5" font-style="italic" fill="#000">δ</text>
<text transform="translate(848.23 669.28) scale(1.418 1.000)" font-size="43.5" fill="#000">=</text>
<text x="895.57" y="665.20" font-size="43.5" font-style="italic" fill="#000">π</text>
<text transform="translate(922.90 676.37) scale(1.374 1.491)" font-size="43.5" fill="#000">/</text>
<text x="942.09" y="665.20" font-size="43.5" fill="#000">2</text>
<text transform="translate(736.39 1373.71) scale(1.000 1.100)" font-size="43.5" fill="#000">(</text>
<text x="754.90" y="1373.00" font-size="43.5" fill="#000">b</text>
<text transform="translate(776.10 1373.71) scale(1.000 1.100)" font-size="43.5" fill="#000">)</text>
<text x="806.33" y="1373.00" font-size="43.5" font-style="italic" fill="#000">δ</text>
<text transform="translate(838.35 1377.08) scale(1.452 1.000)" font-size="43.5" fill="#000">=</text>
<text x="883.92" y="1373.00" font-size="43.5" fill="#000">3</text>
<text x="905.37" y="1373.00" font-size="43.5" font-style="italic" fill="#000">π</text>
<text transform="translate(934.20 1383.27) scale(1.440 1.491)" font-size="43.5" fill="#000">/</text>
<text x="954.19" y="1373.00" font-size="43.5" fill="#000">2</text>
</g>
</svg></body></html>
